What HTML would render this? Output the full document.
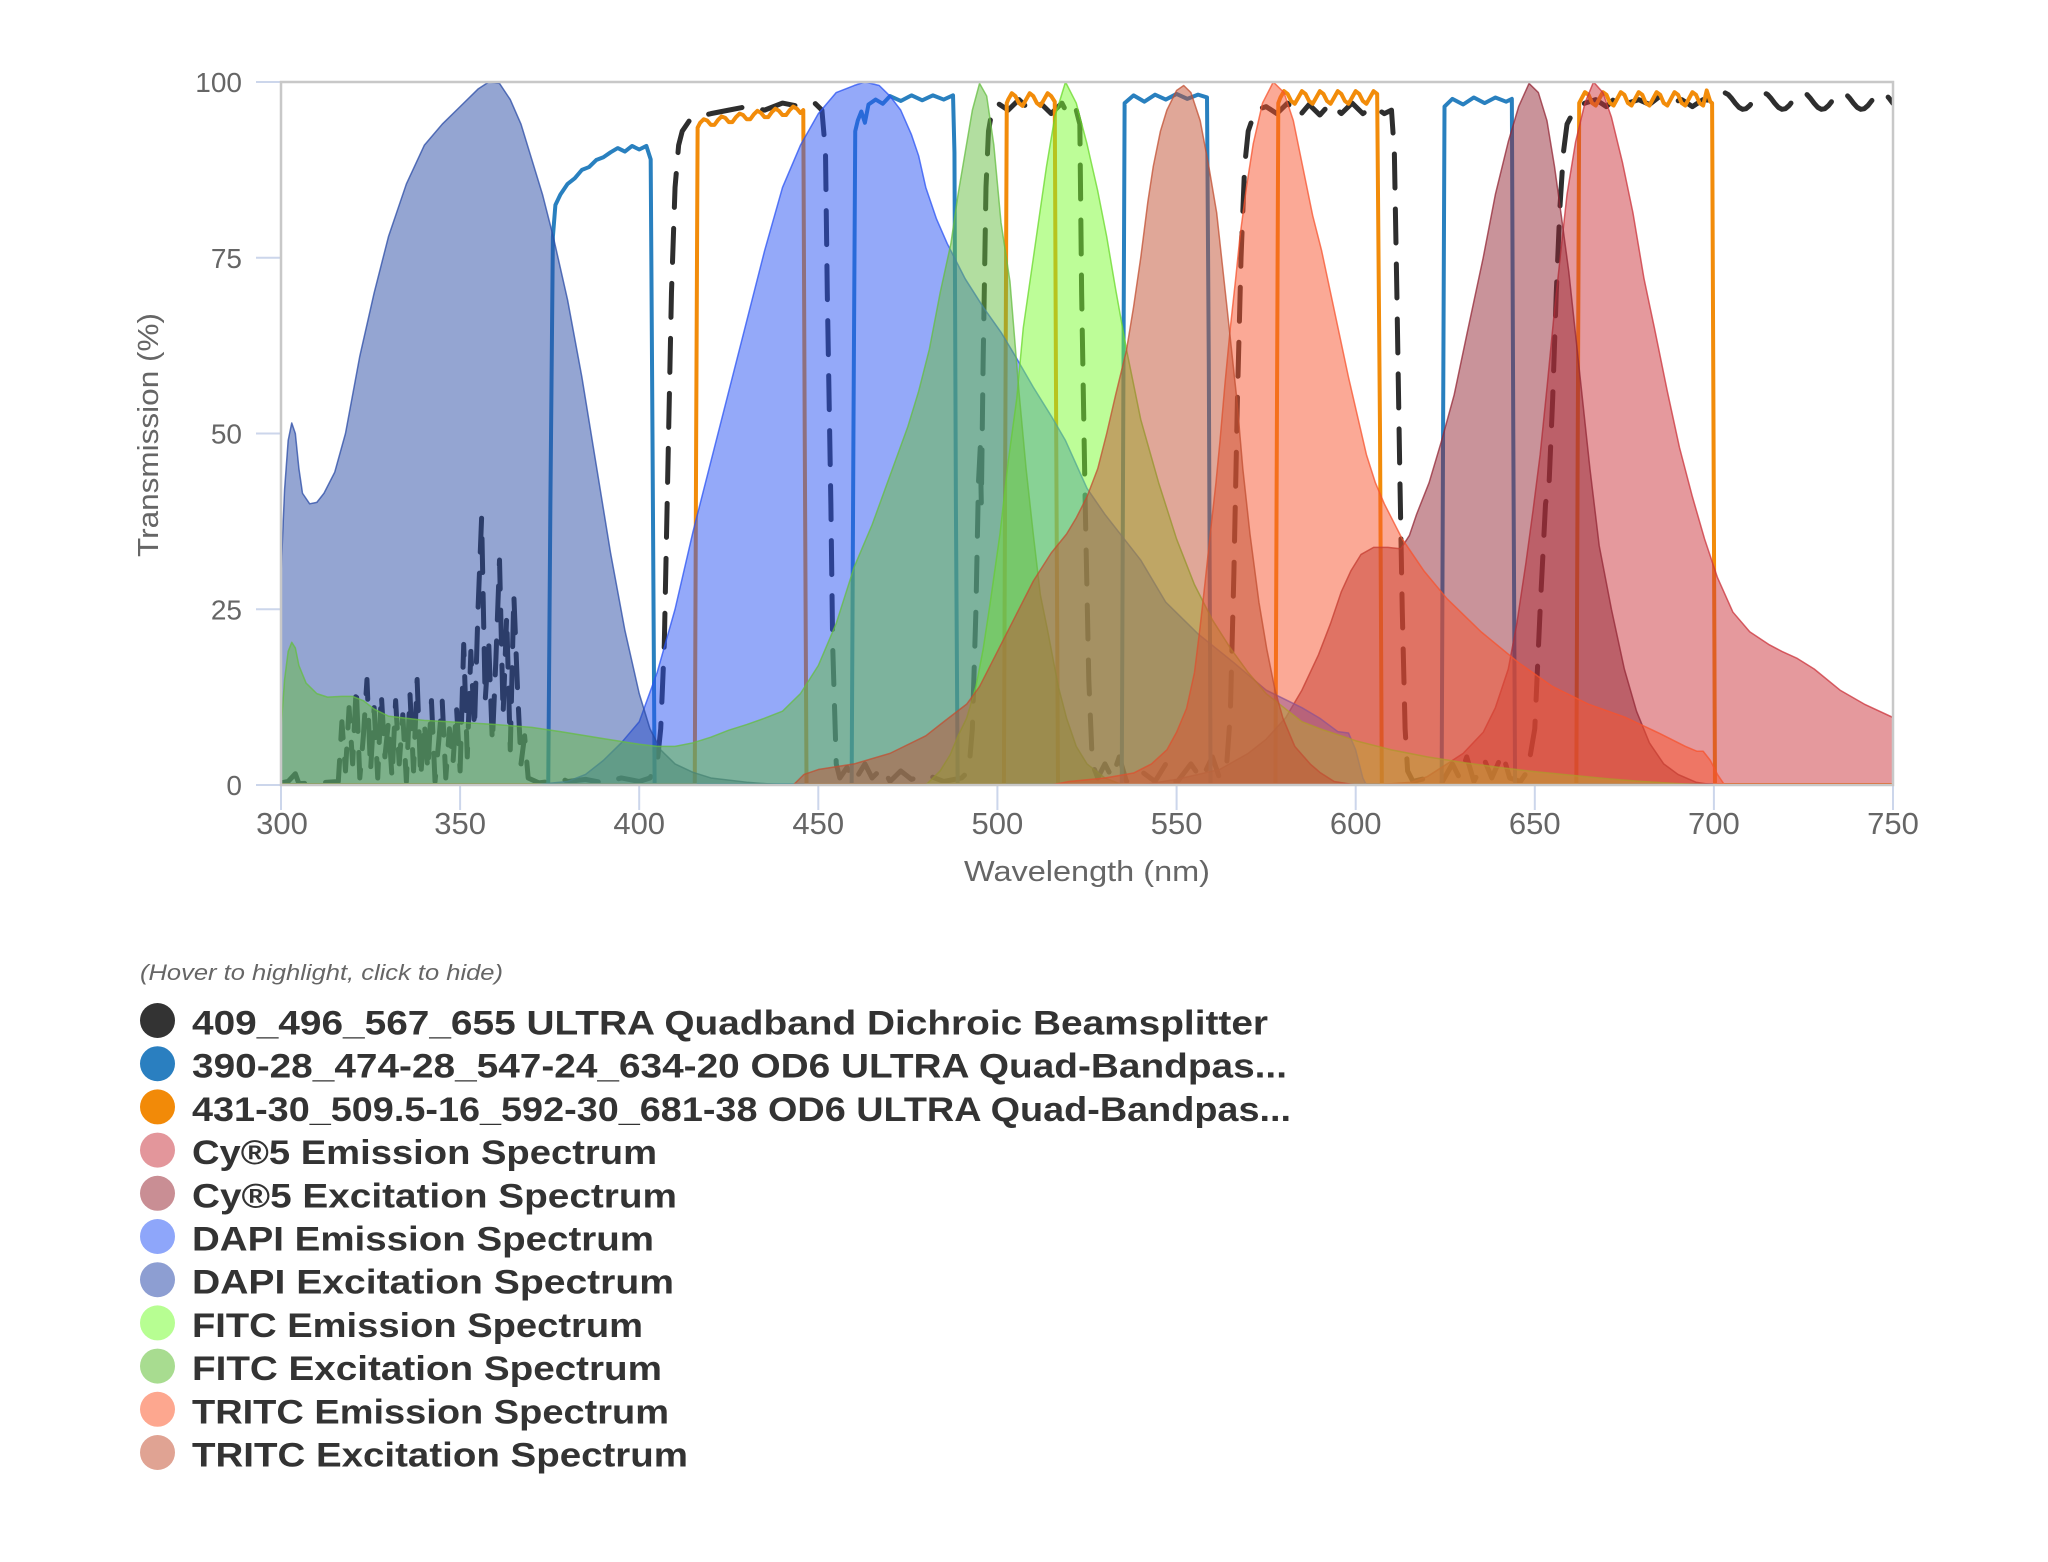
<!DOCTYPE html>
<html>
<head>
<meta charset="utf-8">
<style>
html,body{margin:0;padding:0;background:#ffffff;}
svg{display:block;}
.ax{font-family:"Liberation Sans",sans-serif;fill:#666666;}
.lg{font-family:"Liberation Sans",sans-serif;font-weight:bold;fill:#333333;font-size:34px;}
.ln{fill:none;vector-effect:non-scaling-stroke;stroke-linejoin:round;stroke-linecap:round;}
.ar{vector-effect:non-scaling-stroke;fill-opacity:0.5;stroke-width:1.5;stroke-opacity:0.75;stroke-linejoin:round;}
</style>
</head>
<body>
<svg width="2048" height="1562" viewBox="0 0 2048 1562" xmlns="http://www.w3.org/2000/svg">
<rect x="0" y="0" width="2048" height="1562" fill="#ffffff"/>
<defs>
<clipPath id="pc"><rect x="281" y="78" width="1612" height="708"/></clipPath>
</defs>

<g stroke="#ccd6eb" stroke-width="2">
<line x1="256" y1="82" x2="281" y2="82"/>
<line x1="256" y1="257.75" x2="281" y2="257.75"/>
<line x1="256" y1="433.5" x2="281" y2="433.5"/>
<line x1="256" y1="609.25" x2="281" y2="609.25"/>
<line x1="256" y1="785" x2="281" y2="785"/>
<line x1="281" y1="785" x2="281" y2="810"/>
<line x1="460.1" y1="785" x2="460.1" y2="810"/>
<line x1="639.2" y1="785" x2="639.2" y2="810"/>
<line x1="818.3" y1="785" x2="818.3" y2="810"/>
<line x1="997.4" y1="785" x2="997.4" y2="810"/>
<line x1="1176.6" y1="785" x2="1176.6" y2="810"/>
<line x1="1355.7" y1="785" x2="1355.7" y2="810"/>
<line x1="1534.8" y1="785" x2="1534.8" y2="810"/>
<line x1="1713.9" y1="785" x2="1713.9" y2="810"/>
<line x1="1893" y1="785" x2="1893" y2="810"/>
</g>

<g class="ax" font-size="28" text-anchor="end">
<text x="242" y="92">100</text>
<text x="242" y="267.75">75</text>
<text x="242" y="443.5">50</text>
<text x="242" y="619.25">25</text>
<text x="242" y="795">0</text>
</g>
<g class="ax" font-size="31" text-anchor="middle">
<text x="282" y="834">300</text>
<text x="460.1" y="834">350</text>
<text x="639.2" y="834">400</text>
<text x="818.3" y="834">450</text>
<text x="997.4" y="834">500</text>
<text x="1176.6" y="834">550</text>
<text x="1355.7" y="834">600</text>
<text x="1534.8" y="834">650</text>
<text x="1713.9" y="834">700</text>
<text x="1893" y="834">750</text>
</g>
<text class="ax" font-size="29" x="964" y="881" textLength="246" lengthAdjust="spacingAndGlyphs">Wavelength (nm)</text>
<text class="ax" font-size="29" transform="translate(158,435) rotate(-90)" x="-122" y="0" textLength="244" lengthAdjust="spacingAndGlyphs">Transmission (%)</text>

<g clip-path="url(#pc)">
<g transform="translate(281 785) scale(3.58222 -7.03) translate(-300 0)">

<path class="ln" stroke="#2e2e2e" stroke-width="5" stroke-dasharray="34 21" stroke-linecap="round" d="M300,0.3 L302,0.5 L304,1.6 L305,0.2 L310,0.3 L316,0.5 L317,9 L318,2 L319,11 L320,3 L321,14 L322,1 L323,7 L324,15 L325,2 L326,11 L327,1 L328,13 L329,4 L330,9 L331,1 L332,12 L333,3 L334,10 L335,0.5 L336,13 L337,2 L338,15 L339,1 L340,9 L341,2 L342,12 L343,0.5 L344,6 L345,12 L346,1 L347,8 L348,3 L349,11 L350,2 L351,20 L352,4 L353,19 L354,8 L355,25 L356,38 L357,12 L358,20 L359,6 L360,18 L361,32 L362,10 L363,24 L364,5 L365,27 L366,14 L367,3 L368,7 L369,1 L372,0.3 L375,0.5 L378,1 L380,0.5 L385,0.8 L390,0.3 L395,1 L400,0.5 L403,1 L405,3 L406,8 L407,20 L408,45 L409,70 L410,85 L411,91 L412,93 L414,94.5 L416,95 L420,95.5 L425,96 L430,96.5 L435,96 L440,97 L445,96.5 L449,97 L451,96 L452,90 L452.5,70 L453,55 L453.5,40 L454,20 L455,3 L456,1 L458,2.5 L460,0.5 L463,3 L465,1 L468,2.5 L470,0.5 L473,2 L476,0.8 L480,1.5 L485,0.5 L490,1 L492,2 L493,8 L494,25 L494.7,43 L495.2,48 L495.5,40 L496,60 L496.8,85 L497.5,93 L498.5,96 L500,97 L503,96 L506,97.5 L509,96 L512,97 L515,95.5 L518,97 L520,95 L522,96 L523,94 L523.5,70 L524.5,40 L525.5,15 L526.5,3 L528,1 L530,3 L532,1 L534,4 L536,0.5 L540,2 L544,0.5 L547,3 L550,0.3 L554,3 L557,0.8 L560,4 L562,1 L564,3 L565,10 L566,30 L567,55 L568,75 L569,88 L570,93 L572,96 L575,96.5 L578,95.5 L581,97 L584,95 L587,96.8 L590,95.3 L593,97 L596,95.5 L599,97 L602,95.5 L605,96.5 L608,95.5 L610,96 L610.8,90 L611.5,70 L612.3,45 L613,25 L613.8,8 L614.5,2 L616,0.5 L620,1 L624,0.3 L627,3 L629,1 L631,4 L633,0.5 L636,3.5 L638,1 L641,4.5 L643,1 L646,0.5 L648,2 L650,8 L651.5,25 L653,40 L654,43 L655,55 L656,70 L657,82 L658,90 L659,94 L661,96 L664,97 L667,97.5 L670,96.5 L673,98 L676,97 L679,97.5 L682,96.8 L685,98 L688,97 L691,97.5 L694,96.5 L697,97.5 L700,97.3 L701,97.95 L702,98.39 L703,98.49 L704,98.21 L705,97.64 L706,96.96 L707,96.39 L708,96.11 L709,96.21 L710,96.65 L711,97.3 L712,97.95 L713,98.39 L714,98.49 L715,98.21 L716,97.64 L717,96.96 L718,96.39 L719,96.11 L720,96.21 L721,96.65 L722,97.3 L723,97.95 L724,98.39 L725,98.49 L726,98.21 L727,97.64 L728,96.96 L729,96.39 L730,96.11 L731,96.21 L732,96.65 L733,97.3 L734,97.95 L735,98.39 L736,98.49 L737,98.21 L738,97.64 L739,96.96 L740,96.39 L741,96.11 L742,96.21 L743,96.65 L744,97.3 L745,97.95 L746,98.39 L747,98.49 L748,98.21 L749,97.64 L750,96.96"/>

<path class="ln" stroke="#2980bf" stroke-width="4" d="M300,0 L374.6,0 L375.2,40 L375.9,78 L376.6,82.5 L378,84 L380,85.5 L382,86.3 L384,87.5 L386,87.9 L388,88.9 L390,89.3 L392,90 L394,90.6 L396,90.1 L398,90.9 L400,90.4 L402,90.9 L403.2,89 L403.7,50 L404.3,0 L459.3,0 L459.8,50 L460.3,93 L461,94.5 L462,95.8 L463,94.2 L464,96.8 L466,97.5 L468,96.9 L470,98 L473,97.3 L476,98.1 L479,97.4 L482,98.1 L485,97.5 L487.6,98.1 L488,90 L488.4,40 L488.9,0 L534.7,0 L535.1,50 L535.5,97 L538,98.1 L541,97.2 L544,98.2 L547,97.5 L550,98.3 L553,97.6 L556,98.2 L558.5,97.8 L559,60 L559.5,0 L624,0 L624.4,50 L624.8,96.5 L627,97.6 L630,96.8 L633,97.8 L636,97 L639,97.8 L642,97.2 L643.6,97.6 L644,50 L644.5,0 L750,0"/>

<path class="ln" stroke="#f28c0a" stroke-width="4" d="M300,0 L415.5,0 L415.9,50 L416.3,93.5 L417,94.2 L418,94.7 L419,94.5 L420,93.9 L421,93.9 L422,94.6 L423,95.1 L424,94.9 L425,94.3 L426,94.3 L427,95 L428,95.5 L429,95.3 L430,94.7 L431,94.7 L432,95.4 L433,95.9 L434,95.6 L435,95 L436,95 L437,95.7 L438,96.2 L439,95.9 L440,95.3 L441,95.3 L442,96 L443,96.5 L444,96.2 L445,95.6 L445.8,96 L446.2,50 L446.7,0 L501.8,0 L502.2,50 L502.6,97 L503,97.5 L504,98.4 L505,98 L506,97 L507,96.6 L508,97.5 L509,98.4 L510,98 L511,97 L512,96.6 L513,97.5 L514,98.4 L515,98 L516,97.2 L516.4,50 L516.9,0 L577.6,0 L578,50 L578.4,97 L579,97.8 L580,98.7 L581,98.3 L582,97.3 L583,96.9 L584,97.8 L585,98.7 L586,98.3 L587,97.3 L588,96.9 L589,97.8 L590,98.7 L591,98.3 L592,97.3 L593,96.9 L594,97.8 L595,98.7 L596,98.3 L597,97.3 L598,96.9 L599,97.8 L600,98.7 L601,98.3 L602,97.3 L603,96.9 L604,97.8 L605,98.7 L606,98.3 L606.8,50 L607.3,0 L661.6,0 L662,50 L662.4,97 L663,97.6 L664,98.55 L665,98.19 L666,97.01 L667,96.65 L668,97.6 L669,98.55 L670,98.19 L671,97.01 L672,96.65 L673,97.6 L674,98.55 L675,98.19 L676,97.01 L677,96.65 L678,97.6 L679,98.55 L680,98.19 L681,97.01 L682,96.65 L683,97.6 L684,98.55 L685,98.19 L686,97.01 L687,96.65 L688,97.6 L689,98.55 L690,98.19 L691,97.01 L692,96.65 L693,97.6 L694,98.55 L695,98.19 L696,97.01 L697,96.65 L698,98.8 L699,97.2 L699.5,97 L699.9,50 L700.3,0 L750,0"/>

<path class="ar" fill="#cb333b" stroke="#cb333b" d="M605,0 L615.6,0.4 L620,1.2 L625.5,3 L630,4.5 L635.6,7.5 L639,11 L642.6,16.5 L645,23 L647.5,31.5 L649.5,39 L651.5,47 L653.5,57 L655.4,67 L657.5,77 L659,84 L661.4,91.5 L664,97 L666.4,100 L669,98.5 L671.4,95 L674.5,88.5 L677.4,81.4 L680.5,72 L683.4,65 L687,56 L690.4,48 L694,41 L697.4,35 L701,29.5 L705.3,24.6 L710,21.8 L715.3,20 L719,19 L723.3,18 L728,16.5 L735.2,13.5 L742,11.5 L750,9.6 L751,9.4 L751,0 Z"/>

<path class="ar" fill="#932735" stroke="#932735" d="M540,0 L550,0.8 L562,2.2 L570,4.5 L575,6.5 L580.5,9.6 L585,13.5 L589.6,18.5 L593,23 L596,27.5 L598.7,30.5 L601.5,32.8 L605,33.8 L609,33.8 L612.6,33.6 L615,35.5 L617,38.5 L620.5,43 L624,49 L627.5,55.5 L631,64 L635.6,75 L639,84 L642.6,91.5 L645.5,96.5 L648.4,99.8 L651,98.5 L653.4,94.5 L655.5,88 L657.4,81 L659.5,73 L661.4,64 L663.5,54 L665.4,45 L668,34 L671.4,25 L675,16.5 L678.4,10.5 L682,6 L686,3 L690,1.5 L695,0.4 L700,0 Z"/>

<path class="ar" fill="#2953f3" stroke="#2953f3" d="M370,0 L380,0.5 L385,1.5 L390,3.5 L395,6 L400,9 L405,16 L410,25 L415,36 L420,46 L425,56 L430,66 L435,76 L440,85 L445,91 L450,95.5 L455,98.5 L460,99.5 L463,100 L467,99.5 L470,98 L473,96 L476,92.5 L478,89.5 L480,85 L483,80.5 L486,77 L491,72 L496,68 L501,64.4 L505,61 L510,56.6 L515,52.5 L519,49 L525,42.2 L530,38.5 L540,32 L547,26 L556,21.5 L566,17.4 L575,13.5 L585,11 L590,9.5 L595,7.6 L598,7.4 L600,5 L602,1 L603,0 Z"/>

<path class="ar" fill="#294ba5" stroke="#294ba5" d="M299,0 L300,30 L301,42 L302,49 L303,51.5 L304,50 L305,45 L306,41.5 L308,40 L310,40.2 L312,41.5 L315,44.5 L318,50 L322,61 L326,70 L330,78 L335,85.5 L340,91 L345,94 L350,96.5 L355,99 L358,100 L361,99.8 L364,97.5 L367,94 L370,89 L373,84 L376,78 L380,69 L384,58 L388,45.5 L392,33 L396,22 L400,13 L403,8 L406,5 L410,3 L415,1.8 L420,1 L430,0.4 L440,0 Z"/>

<path class="ar" fill="#7bfb31" stroke="#6ad82a" d="M480,0 L484,2 L486.8,4.3 L489,7 L491.4,9.5 L494,14 L496,19.3 L498,26 L500.7,35.7 L503,46 L505.4,55 L507.2,65 L510,74.9 L512,82 L513.7,88 L516,95 L519,100 L522,97 L525,91.2 L528,84.5 L530.5,78 L533,70.5 L536,62 L540,52 L545,43 L550,35 L555,28.5 L560,23.5 L565,19.5 L570,16 L575,13 L580,11 L585,9 L590,8 L600,6.3 L610,5 L620,4 L630,3.2 L640,2.5 L650,1.9 L660,1.4 L670,0.9 L680,0.5 L690,0.2 L700,0 Z"/>

<path class="ar" fill="#65bd41" stroke="#65bd41" d="M299,0 L300,8 L301,15 L302,19 L303,20.3 L304,19.5 L305,17 L307,14.5 L310,13 L313,12.5 L317,12.6 L320,12.6 L323,12 L326,10.8 L330,9.8 L340,9.2 L350,8.9 L360,8.6 L370,8.2 L378,7.6 L390,6.6 L400,5.8 L405,5.5 L410,5.5 L415,6 L420,6.8 L425,7.8 L430,8.6 L435,9.5 L440,10.5 L445,13 L450,17 L455,23 L460,31 L465,37 L470,44 L475,51 L478,56 L481,62 L484,70 L487,77 L489,84 L491,90 L493,96 L495,99.8 L497,98 L499,91 L501,80 L503.5,71.6 L506,56 L508,45 L510,35.7 L512,27 L514,22 L517,14 L519.3,9.5 L522,5.5 L525,3 L530,1 L535,0 Z"/>

<path class="ar" fill="#f7532d" stroke="#f7532d" d="M515,0 L520,0.5 L530,1 L538,1.7 L543,3 L547.3,5 L550,7.5 L552.8,10.9 L555,16 L556.6,22.6 L558,29 L559.4,35.7 L561,43 L562.1,48.8 L563.5,57 L565,65 L566.5,72 L567.7,78 L569.5,85 L571.4,91.2 L574,97 L577,100 L580,98.5 L582.6,94.5 L585,88.5 L588,81 L590.5,76 L593,70 L595.5,64 L598,58 L600.5,52.5 L603,47 L605.5,43 L608,40 L613,35 L619,30.5 L625.5,26.5 L635,21.8 L645.5,17.4 L655,14 L665,11.5 L675.4,9.6 L685,7.3 L692,5.5 L695.3,4.8 L697,4.8 L699,3.5 L701,1.5 L703,0 Z"/>

<path class="ar" fill="#c14f31" stroke="#c14f31" d="M443,0 L446,1.5 L450,2.2 L460,3 L470,4.5 L480,7 L485,9 L491.4,11.5 L495,14 L500,19 L505,24 L510,29 L515,33 L519.3,35.7 L522,38 L525,41 L528,45 L530.5,50 L533,55.5 L536,61.8 L538,68 L540,75 L542,83 L543.5,88 L545.5,93 L547.3,96 L550,98.8 L552,99.5 L554,98.5 L556.6,94.5 L559,88 L561.2,81.4 L564,68.3 L566.8,55 L568.5,45 L570.5,35.7 L573,26 L575.2,19.3 L577.5,13.5 L579.7,9.5 L583,5.5 L587.3,3 L590,1.8 L594,0.5 L600,0 Z"/>

</g>
</g>

<rect x="281" y="82" width="1612" height="703" fill="none" stroke="#c8c8c8" stroke-width="2.5"/>

<text x="140" y="980" font-family="'Liberation Sans',sans-serif" font-style="italic" font-size="22" fill="#666666" textLength="363" lengthAdjust="spacingAndGlyphs">(Hover to highlight, click to hide)</text>

<circle cx="157.5" cy="1020.5" r="17.5" fill="#333333"/>
<circle cx="157.5" cy="1063.7" r="17.5" fill="#2a7fc0"/>
<circle cx="157.5" cy="1106.9" r="17.5" fill="#f28a08"/>
<circle cx="157.5" cy="1150.1" r="17.5" fill="#e3969b"/>
<circle cx="157.5" cy="1193.3" r="17.5" fill="#c98e94"/>
<circle cx="157.5" cy="1236.5" r="17.5" fill="#8ea6fa"/>
<circle cx="157.5" cy="1279.7" r="17.5" fill="#8d9ed2"/>
<circle cx="157.5" cy="1322.9" r="17.5" fill="#b7fe92"/>
<circle cx="157.5" cy="1366.1" r="17.5" fill="#a8dc90"/>
<circle cx="157.5" cy="1409.3" r="17.5" fill="#fda78f"/>
<circle cx="157.5" cy="1452.5" r="17.5" fill="#e0a393"/>

<text class="lg" x="192" y="1034.5" textLength="1076" lengthAdjust="spacingAndGlyphs">409_496_567_655 ULTRA Quadband Dichroic Beamsplitter</text>
<text class="lg" x="192" y="1077.7" textLength="1095" lengthAdjust="spacingAndGlyphs">390-28_474-28_547-24_634-20 OD6 ULTRA Quad-Bandpas...</text>
<text class="lg" x="192" y="1120.9" textLength="1099" lengthAdjust="spacingAndGlyphs">431-30_509.5-16_592-30_681-38 OD6 ULTRA Quad-Bandpas...</text>
<text class="lg" x="192" y="1164.1" textLength="465" lengthAdjust="spacingAndGlyphs">Cy®5 Emission Spectrum</text>
<text class="lg" x="192" y="1207.3" textLength="485" lengthAdjust="spacingAndGlyphs">Cy®5 Excitation Spectrum</text>
<text class="lg" x="192" y="1250.5" textLength="462" lengthAdjust="spacingAndGlyphs">DAPI Emission Spectrum</text>
<text class="lg" x="192" y="1293.7" textLength="482" lengthAdjust="spacingAndGlyphs">DAPI Excitation Spectrum</text>
<text class="lg" x="192" y="1336.9" textLength="451" lengthAdjust="spacingAndGlyphs">FITC Emission Spectrum</text>
<text class="lg" x="192" y="1380.1" textLength="470" lengthAdjust="spacingAndGlyphs">FITC Excitation Spectrum</text>
<text class="lg" x="192" y="1423.3" textLength="477" lengthAdjust="spacingAndGlyphs">TRITC Emission Spectrum</text>
<text class="lg" x="192" y="1466.5" textLength="496" lengthAdjust="spacingAndGlyphs">TRITC Excitation Spectrum</text>
</svg>
</body>
</html>
